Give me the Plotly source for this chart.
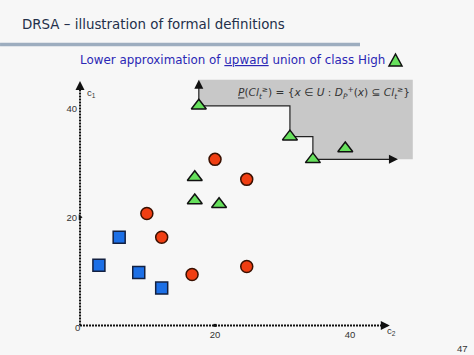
import plotly.graph_objects as go

# ---------------- data (c2 on x, c1 on y) ----------------
low_c2 = [2.8, 5.8, 8.7, 12.1]
low_c1 = [11.1, 16.3, 9.8, 6.9]

med_c2 = [9.9, 12.1, 20.0, 24.7, 16.6, 24.7]
med_c1 = [20.7, 16.3, 30.7, 27.0, 9.4, 10.9]

high_c2 = [17.0, 17.0, 20.6, 17.6, 31.1, 34.5, 39.3]
high_c1 = [27.4, 23.1, 22.4, 40.6, 34.9, 30.7, 32.7]

lower_idx = [3, 4, 5]          # triangles forming the staircase
tick_vals = [20, 40]
tick_text = ["20", "40"]

# ---------------- layout constants ----------------
W, H = 474, 355
X0_PX, Y0_PX = 80, 325
SX, SY = 6.75, 5.4
X_RANGE = [-0.3, 52]
Y_RANGE = [-0.3, 50]
L = X0_PX + X_RANGE[0] * SX
R = W - (X0_PX + X_RANGE[1] * SX)
T = Y0_PX - Y_RANGE[1] * SY
B = H - (Y0_PX - Y_RANGE[0] * SY)
PW = W - L - R
PH = H - T - B


def pxx(p):
    return (p - L) / PW


def pxy(p):
    return (H - B - p) / PH


AX_X_END, AX_Y_END = 45.9, 45.2
STAIR_TOP, STAIR_END = 45.4, 47.1
GRAY_TOP, GRAY_RIGHT = 45.4, 49.3

BG = "#f7f7f7"
GREEN = "#66e05c"
RED = "#f03e12"
BLUE = "#1c6fe6"

fig = go.Figure()

# gray region (lower approximation dominance cone)
sx = [high_c2[i] for i in lower_idx]
sy = [high_c1[i] for i in lower_idx]
gx = [sx[0], GRAY_RIGHT, GRAY_RIGHT, sx[2], sx[2], sx[1], sx[1], sx[0], sx[0]]
gy = [GRAY_TOP, GRAY_TOP, sy[2], sy[2], sy[1], sy[1], sy[0], sy[0], GRAY_TOP]
fig.add_trace(go.Scatter(x=gx, y=gy, mode="lines", fill="toself",
                         fillcolor="#c8c8c8", line=dict(width=0),
                         hoverinfo="skip", showlegend=False))

# staircase line
lx = [sx[0], sx[0], sx[1], sx[1], sx[2], sx[2], STAIR_END - 0.6]
ly = [STAIR_TOP - 0.6, sy[0], sy[0], sy[1], sy[1], sy[2], sy[2]]
fig.add_trace(go.Scatter(x=lx, y=ly, mode="lines",
                         line=dict(color="#222222", width=1.2),
                         hoverinfo="skip", showlegend=False))

# axes (dotted)
fig.add_shape(type="line", x0=0, y0=0, x1=AX_X_END - 0.6, y1=0,
              line=dict(color="#111111", width=2, dash="2px,1px"))
fig.add_shape(type="line", x0=0, y0=0, x1=0, y1=AX_Y_END - 0.6,
              line=dict(color="#111111", width=2, dash="2px,1px"))

# tick marks at 20
fig.add_trace(go.Scatter(x=[0], y=[tick_vals[0]], mode="markers",
                         marker=dict(symbol="triangle-right", size=5, color="#111111"),
                         cliponaxis=False, hoverinfo="skip", showlegend=False))
fig.add_trace(go.Scatter(x=[tick_vals[0]], y=[0], mode="markers",
                         marker=dict(symbol="square", size=3, color="#111111"),
                         cliponaxis=False, hoverinfo="skip", showlegend=False))

# points
fig.add_trace(go.Scatter(x=low_c2, y=low_c1, mode="markers",
                         marker=dict(symbol="square", size=12, color=BLUE,
                                     line=dict(color="#132040", width=1.5)),
                         showlegend=False))
fig.add_trace(go.Scatter(x=med_c2, y=med_c1, mode="markers",
                         marker=dict(symbol="circle", size=12, color=RED,
                                     line=dict(color="#3a1000", width=1.5)),
                         showlegend=False))
fig.add_trace(go.Scatter(x=high_c2, y=high_c1, mode="markers",
                         marker=dict(symbol="triangle-up", size=13, color=GREEN,
                                     line=dict(color="#111111", width=1.5)),
                         cliponaxis=False, showlegend=False))

# arrowheads
def arrow(x, y, axv, ayv):
    fig.add_annotation(x=x, y=y, ax=axv, ay=ayv, xref="x", yref="y",
                       axref="x", ayref="y", text="", showarrow=True,
                       arrowhead=2, arrowsize=1.2, arrowwidth=1.5,
                       arrowcolor="#111111")

arrow(AX_X_END, 0, AX_X_END - 1.0, 0)
arrow(0, AX_Y_END, 0, AX_Y_END - 1.2)
arrow(sx[0], STAIR_TOP, sx[0], STAIR_TOP - 1.0)
arrow(STAIR_END, sy[2], STAIR_END - 0.8, sy[2])

# slide header
fig.add_annotation(x=pxx(20), y=pxy(25), xref="paper", yref="paper",
                   text="DRSA – illustration of formal definitions",
                   showarrow=False, xanchor="left", yanchor="middle",
                   font=dict(family="DejaVu Sans", size=13.4, color="#24304a"))
fig.add_shape(type="line", xref="paper", yref="paper",
              x0=pxx(0), x1=pxx(360), y0=pxy(44.5), y1=pxy(44.5),
              line=dict(color="#9dadbf", width=3.5))
fig.add_annotation(x=pxx(78), y=pxy(60), xref="paper", yref="paper",
                   text="Lower approximation of <u>upward</u> union of class High",
                   showarrow=False, xanchor="left", yanchor="middle",
                   font=dict(family="DejaVu Sans", size=11.9, color="#2b27b5"))
# legend-like triangle after subtitle
fig.add_shape(type="path", xref="paper", yref="paper",
              path="M {0},{1} L {2},{3} L {4},{5} Z".format(
                  pxx(389), pxy(66), pxx(402), pxy(66), pxx(395.5), pxy(54)),
              fillcolor=GREEN, line=dict(color="#111111", width=1.5))

# formula
fig.add_annotation(x=pxx(236), y=pxy(93), xref="paper", yref="paper",
                   text=("<i><u>P</u></i>(<i>Cl</i><sub><i>t</i></sub><sup>≥</sup>) = "
                         "{<i>x</i> ∈ <i>U</i> : <i>D</i><sub><i>P</i></sub><sup>+</sup>"
                         "(<i>x</i>) ⊆ <i>Cl</i><sub><i>t</i></sub><sup>≥</sup>}"),
                   showarrow=False, xanchor="left", yanchor="middle",
                   font=dict(family="DejaVu Sans", size=10.6, color="#333333"))

# axis names and extra labels
fig.add_annotation(x=pxx(85), y=pxy(93), xref="paper", yref="paper",
                   text="c<sub>1</sub>", showarrow=False, xanchor="left",
                   yanchor="middle",
                   font=dict(family="Liberation Sans", size=9.5, color="#333333"))
fig.add_annotation(x=pxx(391), y=pxy(331), xref="paper", yref="paper",
                   text="c<sub>2</sub>", showarrow=False, xanchor="center",
                   yanchor="middle",
                   font=dict(family="Liberation Sans", size=9.5, color="#333333"))
fig.add_annotation(x=pxx(77), y=pxy(327), xref="paper", yref="paper",
                   text="0", showarrow=False, xanchor="center", yanchor="middle",
                   font=dict(family="Liberation Sans", size=9.5, color="#333333"))
fig.add_annotation(x=pxx(463), y=pxy(348), xref="paper", yref="paper",
                   text="47", showarrow=False, xanchor="center", yanchor="middle",
                   font=dict(family="Liberation Sans", size=9.5, color="#333333"))

axis_common = dict(showgrid=False, zeroline=False, showline=False,
                   tickmode="array", tickvals=tick_vals, ticktext=tick_text,
                   ticks="", tickfont=dict(family="Liberation Sans", size=9.5,
                                           color="#333333"))
fig.update_layout(
    width=W, height=H,
    margin=dict(l=L, r=R, t=T, b=B, pad=0),
    paper_bgcolor=BG, plot_bgcolor=BG,
    xaxis=dict(range=X_RANGE, **axis_common),
    yaxis=dict(range=Y_RANGE, **axis_common),
)

fig.write_html("out.html")
